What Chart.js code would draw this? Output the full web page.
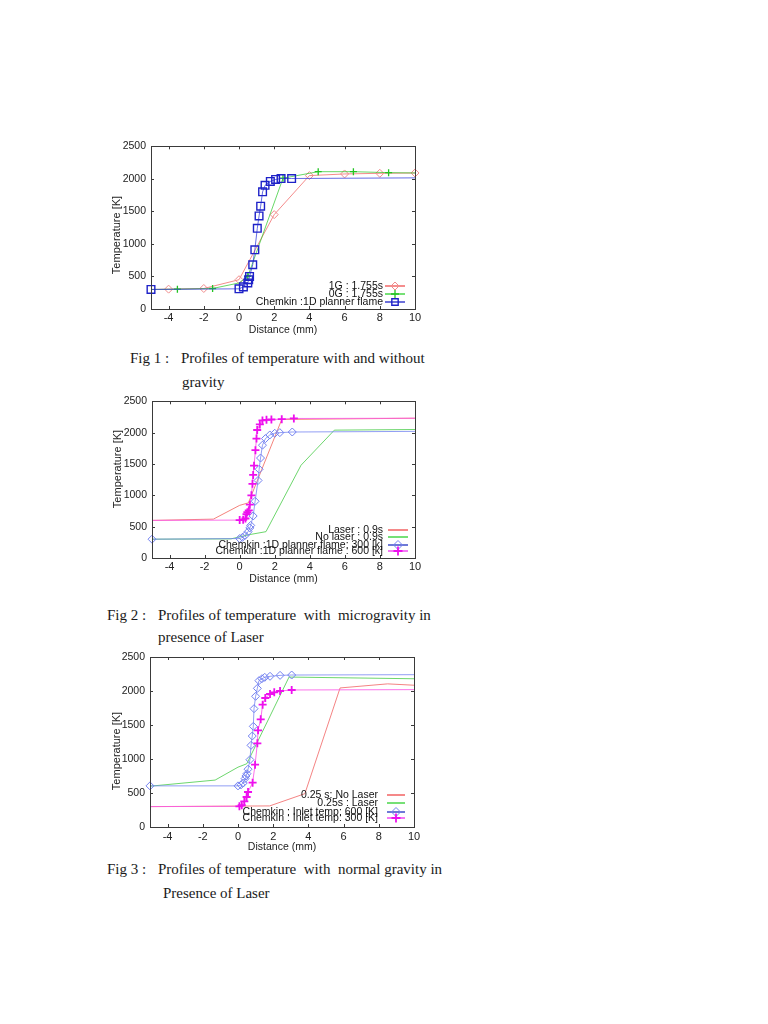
<!DOCTYPE html>
<html><head><meta charset="utf-8">
<script src="https://cdn.jsdelivr.net/npm/chart.js@4.4.0/dist/chart.umd.min.js"></script>
<style>
html,body{margin:0;padding:0;background:#fff;}
body{width:768px;height:1024px;position:relative;overflow:hidden;}
.box{position:absolute;}
.cap{position:absolute;font-family:"Liberation Serif","Times New Roman",serif;font-size:15px;line-height:16px;color:#1a1a1a;white-space:pre;}
</style></head><body>
<div class="box" id="b1" style="left:100px;top:135px;width:330px;height:201px;"><canvas id="c1"></canvas></div>
<div class="box" id="b2" style="left:100px;top:390px;width:330px;height:195px;"><canvas id="c2"></canvas></div>
<div class="box" id="b3" style="left:100px;top:645px;width:330px;height:208px;"><canvas id="c3"></canvas></div>

<div class="cap" style="left:130px;top:350px;">Fig 1 :</div>
<div class="cap" style="left:181px;top:350px;">Profiles of temperature with and without</div>
<div class="cap" style="left:182px;top:374px;">gravity</div>
<div class="cap" style="left:107px;top:607px;">Fig 2 :</div>
<div class="cap" style="left:158px;top:607px;">Profiles of temperature  with  microgravity in</div>
<div class="cap" style="left:158px;top:629px;">presence of Laser</div>
<div class="cap" style="left:107px;top:861px;">Fig 3 :</div>
<div class="cap" style="left:158px;top:861px;">Profiles of temperature  with  normal gravity in</div>
<div class="cap" style="left:163px;top:885px;">Presence of Laser</div>

<script>
// ---- shared ticks ----
const xTicks = [-4, -2, 0, 2, 4, 6, 8, 10];
const yTicks = [0, 500, 1000, 1500, 2000, 2500];
const xTitle = 'Distance (mm)';
const yTitle = 'Temperature [K]';

// ---- Fig 1 ----
const f1Labels = ['1G : 1.755s', '0G : 1.755s', 'Chemkin :1D planner flame'];
const f1G1x = [-5, -4, -2, 0, 2, 4, 6, 8, 10];
const f1G1y = [300, 305, 315, 450, 1450, 2050, 2075, 2085, 2090];
const f1G1bare = [-5];
const f1G0x = [-5, -3.5, -1.5, 0, 0.5, 2.5, 4.5, 6.5, 8.5, 10];
const f1G0y = [300, 305, 315, 400, 500, 2010, 2110, 2110, 2095, 2090];
const f1G0bare = [-5, 0, 10];
const f1CKx = [-5, 0, 0.25, 0.5, 0.55, 0.6, 0.78, 0.9, 1.04, 1.14, 1.23, 1.34, 1.48, 1.78, 2.08, 2.39, 2.99, 10];
const f1CKy = [300, 310, 340, 400, 450, 500, 680, 910, 1240, 1430, 1580, 1800, 1900, 1960, 1990, 2005, 2005, 2015];
const f1CKbare = [10];

// ---- Fig 2 ----
const f2Labels = ['Laser : 0.9s', 'No laser : 0.9s', 'Chemkin :1D planner flame: 300 [k]', 'Chemkin :1D planner flame : 600 [k]'];
const f2Lx = [-5, -1.5, 0, 0.5, 2.4, 10];
const f2Ly = [600, 620, 840, 880, 2210, 2230];
const f2NLx = [-5, -0.5, 0.5, 1.5, 3.5, 5.4, 10];
const f2NLy = [300, 305, 370, 420, 1480, 2040, 2050];
const f2C3x = [-5, 0, 0.16, 0.31, 0.48, 0.58, 0.63, 0.77, 0.88, 1.05, 1.11, 1.19, 1.30, 1.47, 1.72, 2.0, 2.29, 3.0, 10];
const f2C3y = [300, 310, 330, 360, 420, 480, 520, 670, 905, 1237, 1416, 1595, 1800, 1905, 1963, 1990, 2000, 2010, 2020];
const f2C3bare = [10];
const f2C6x = [-5, 0, 0.2, 0.33, 0.39, 0.44, 0.52, 0.58, 0.67, 0.73, 0.77, 0.82, 0.9, 0.96, 1.0, 1.15, 1.3, 1.53, 1.81, 2.4, 3.09, 10];
const f2C6y = [600, 605, 610, 630, 700, 730, 760, 850, 1000, 1184, 1326, 1473, 1721, 1905, 2042, 2131, 2195, 2205, 2210, 2215, 2226, 2230];
const f2C6bare = [-5, 10];

// ---- Fig 3 ----
const f3Labels = ['0.25 s: No Laser', '0.25s : Laser', 'Chemkin : Inlet temp: 600 [K]', 'Chemkin : Inlet temp: 300 [K]'];
const f3NLx = [-5, 1.8, 3.8, 5.8, 8.5, 10];
const f3NLy = [300, 310, 490, 2045, 2105, 2085];
const f3Lx = [-5, -1.3, 0, 0.5, 2.9, 10];
const f3Ly = [600, 690, 880, 930, 2205, 2180];
const f3C6x = [-5, 0, 0.17, 0.30, 0.40, 0.45, 0.51, 0.57, 0.68, 0.74, 0.81, 0.87, 0.91, 1.0, 1.10, 1.19, 1.36, 1.52, 1.82, 2.39, 3.05, 10];
const f3C6y = [605, 605, 620, 647, 711, 750, 784, 850, 990, 1201, 1338, 1480, 1740, 1922, 2039, 2152, 2181, 2201, 2216, 2230, 2235, 2240];
const f3C6bare = [10];
const f3C3x = [-5, 0.08, 0.21, 0.36, 0.49, 0.57, 0.83, 0.97, 1.10, 1.14, 1.29, 1.40, 1.55, 1.82, 2.06, 2.39, 3.05, 10];
const f3C3y = [300, 304, 320, 377, 441, 515, 652, 917, 1230, 1422, 1583, 1799, 1897, 1956, 1980, 2000, 2015, 2020];
const f3C3bare = [-5, 10];

// ---- helpers ----
const XTICK_FONT = {family: '"Liberation Sans", Arial, sans-serif', size: 11};
const YTICK_FONT = {family: '"Liberation Sans", Arial, sans-serif', size: 10.5};
const LBL_FONT = '10.5px "Liberation Sans", Arial, sans-serif';

function series(label, xs, ys, bare, st) {
  return {
    label: label,
    data: xs.map((x, i) => ({x: x, y: ys[i]})),
    showLine: true,
    borderColor: st.line,
    backgroundColor: 'rgba(0,0,0,0)',
    borderWidth: st.lw || 1,
    pointStyle: st.ps || false,
    pointRadius: (c) => (!st.ps || (bare && bare.includes(xs[c.dataIndex]))) ? 0 : st.r,
    pointBorderColor: st.pc || st.line,
    pointBackgroundColor: 'rgba(0,0,0,0)',
    pointBorderWidth: st.pw || 1,
    pointHoverRadius: 0,
    tension: 0,
    clip: false,
    legendLine: st.leg || st.line,
    legendMarker: st.pc || st.line
  };
}

function drawMarker(ctx, style, x, y, r, color, w) {
  if (!style) return;
  ctx.save();
  ctx.strokeStyle = color; ctx.lineWidth = w;
  ctx.beginPath();
  if (style === 'rect') {
    const s = r * Math.SQRT1_2;
    ctx.rect(x - s, y - s, 2 * s, 2 * s);
  } else if (style === 'rectRot') {
    ctx.moveTo(x, y - r); ctx.lineTo(x + r, y); ctx.lineTo(x, y + r); ctx.lineTo(x - r, y); ctx.closePath();
  } else if (style === 'cross') {
    ctx.moveTo(x - r, y); ctx.lineTo(x + r, y); ctx.moveTo(x, y - r); ctx.lineTo(x, y + r);
  }
  ctx.stroke();
  ctx.restore();
}

const gpPlugin = {
  id: 'gp',
  afterDatasetsDraw(chart, args, o) {
    const ctx = chart.ctx, a = chart.chartArea;
    const xs = chart.scales.x, ys = chart.scales.y;
    ctx.save();
    ctx.strokeStyle = '#3a3a3a'; ctx.lineWidth = 1;
    ctx.strokeRect(Math.round(a.left) + 0.5, Math.round(a.top) + 0.5, Math.round(a.right - a.left), Math.round(a.bottom - a.top));
    ctx.beginPath();
    xTicks.forEach(v => {
      const px = Math.round(xs.getPixelForValue(v)) + 0.5;
      ctx.moveTo(px, a.bottom); ctx.lineTo(px, a.bottom - 3);
      ctx.moveTo(px, a.top); ctx.lineTo(px, a.top + 3);
    });
    yTicks.forEach(v => {
      const py = Math.round(ys.getPixelForValue(v)) + 0.5;
      ctx.moveTo(a.left, py); ctx.lineTo(a.left + 3, py);
      ctx.moveTo(a.right, py); ctx.lineTo(a.right - 3, py);
    });
    ctx.stroke();
    ctx.fillStyle = '#222';
    ctx.font = '11px "Liberation Sans", Arial, sans-serif';
    ctx.textAlign = 'center'; ctx.textBaseline = 'middle';
    ctx.translate(o.yTitleX, o.yTitleY);
    ctx.rotate(-Math.PI / 2);
    ctx.fillText(yTitle, 0, 0);
    ctx.restore();
    ctx.save();
    ctx.font = LBL_FONT; ctx.fillStyle = '#111';
    ctx.textAlign = 'right'; ctx.textBaseline = 'middle';
    chart.data.datasets.forEach((ds, i) => {
      const y = a.bottom + o.rows[i];
      ctx.fillText(ds.label, a.right + o.textRight, y);
      ctx.strokeStyle = ds.legendLine; ctx.lineWidth = 1.3;
      ctx.beginPath();
      ctx.moveTo(a.right + o.s1, y); ctx.lineTo(a.right + o.s2, y); ctx.stroke();
      if (ds.pointStyle) {
        const r = typeof ds.legendR === 'number' ? ds.legendR : 4;
        drawMarker(ctx, ds.pointStyle, a.right + (o.s1 + o.s2) / 2, y, r, ds.legendMarker, ds.pointBorderWidth);
      }
    });
    ctx.restore();
  }
};

function makeChart(id, datasets, cfg) {
  const n = datasets.length;
  datasets.forEach((d, i) => { d.order = n - i; });
  return new Chart(document.getElementById(id), {
    type: 'scatter',
    data: {datasets: datasets},
    plugins: [gpPlugin],
    options: {
      responsive: true, maintainAspectRatio: false, animation: false,
      layout: {padding: {top: cfg.padTop, right: cfg.padRight, left: 0, bottom: 0}},
      plugins: {legend: {display: false}, tooltip: {enabled: false}, gp: cfg.gp},
      scales: {
        x: {
          type: 'linear', min: -5, max: 10,
          afterBuildTicks: s => { s.ticks = xTicks.map(v => ({value: v})); },
          afterFit: s => { s.height = cfg.xH; },
          grid: {display: false, drawTicks: false}, border: {display: false},
          ticks: {padding: cfg.xPad, font: XTICK_FONT, color: '#222', maxRotation: 0, autoSkip: false, callback: v => String(v)},
          title: {display: true, text: xTitle, color: '#222', padding: 0, font: {family: '"Liberation Sans", Arial, sans-serif', size: 10.5}}
        },
        y: {
          type: 'linear', min: 0, max: 2500,
          afterBuildTicks: s => { s.ticks = yTicks.map(v => ({value: v})); },
          afterFit: s => { s.width = cfg.yW; },
          grid: {display: false, drawTicks: false}, border: {display: false},
          ticks: {padding: 5, font: YTICK_FONT, color: '#222', autoSkip: false, callback: v => String(v)}
        }
      }
    }
  });
}

// Fig 1
const d1 = [
  series(f1Labels[0], f1G1x, f1G1y, f1G1bare, {line: 'rgba(240,90,90,0.7)', pc: '#f08c8c', ps: 'rectRot', r: 4, leg: '#f05050'}),
  series(f1Labels[1], f1G0x, f1G0y, f1G0bare, {line: 'rgba(40,200,40,0.7)', pc: '#22c422', ps: 'cross', r: 3.5, pw: 1.3, leg: '#2ccf2c'}),
  series(f1Labels[2], f1CKx, f1CKy, f1CKbare, {line: 'rgba(50,60,220,0.75)', pc: '#1e22c8', ps: 'rect', r: 5.4, pw: 1.4, leg: '#1e22c8'})
];
d1[0].legendR = 4; d1[1].legendR = 4; d1[2].legendR = 4.5;
makeChart('c1', d1, {padTop: 9, padRight: 15, xH: 27, yW: 51, xPad: 2,
  gp: {rows: [-23, -15, -7], textRight: -32, s1: -30, s2: -10, yTitleX: 17, yTitleY: 100}});

// Fig 2
const d2 = [
  series(f2Labels[0], f2Lx, f2Ly, [], {line: 'rgba(240,90,80,0.75)', leg: '#f04a4a'}),
  series(f2Labels[1], f2NLx, f2NLy, [], {line: 'rgba(60,200,60,0.75)', leg: '#2ccf2c'}),
  series(f2Labels[2], f2C3x, f2C3y, f2C3bare, {line: 'rgba(110,125,240,0.75)', pc: '#7280f0', ps: 'rectRot', r: 4, leg: '#2030c0'}),
  series(f2Labels[3], f2C6x, f2C6y, f2C6bare, {line: 'rgba(250,90,230,0.85)', pc: '#ee10ee', ps: 'cross', r: 4, pw: 1.8, leg: '#ee30ee'})
];
d2[2].legendR = 4.5; d2[3].legendR = 4.5;
makeChart('c2', d2, {padTop: 10, padRight: 15, xH: 27, yW: 52, xPad: 2,
  gp: {rows: [-28, -21, -13, -7], textRight: -32, s1: -27, s2: -7, yTitleX: 18, yTitleY: 79}});

// Fig 3
const d3 = [
  series(f3Labels[0], f3NLx, f3NLy, [], {line: 'rgba(240,90,90,0.75)', leg: '#f04a4a'}),
  series(f3Labels[1], f3Lx, f3Ly, [], {line: 'rgba(60,200,60,0.75)', leg: '#2ccf2c'}),
  series(f3Labels[2], f3C6x, f3C6y, f3C6bare, {line: 'rgba(110,125,240,0.75)', pc: '#7280f0', ps: 'rectRot', r: 4, leg: '#2030c0'}),
  series(f3Labels[3], f3C3x, f3C3y, f3C3bare, {line: 'rgba(250,90,230,0.85)', pc: '#ee10ee', ps: 'cross', r: 4, pw: 1.8, leg: '#ee30ee'})
];
d3[2].legendR = 4.5; d3[3].legendR = 4.5;
makeChart('c3', d3, {padTop: 12, padRight: 16, xH: 26, yW: 50, xPad: 3,
  gp: {rows: [-32, -24, -15, -9], textRight: -36, s1: -27, s2: -9, yTitleX: 17, yTitleY: 106}});
</script>
</body></html>
